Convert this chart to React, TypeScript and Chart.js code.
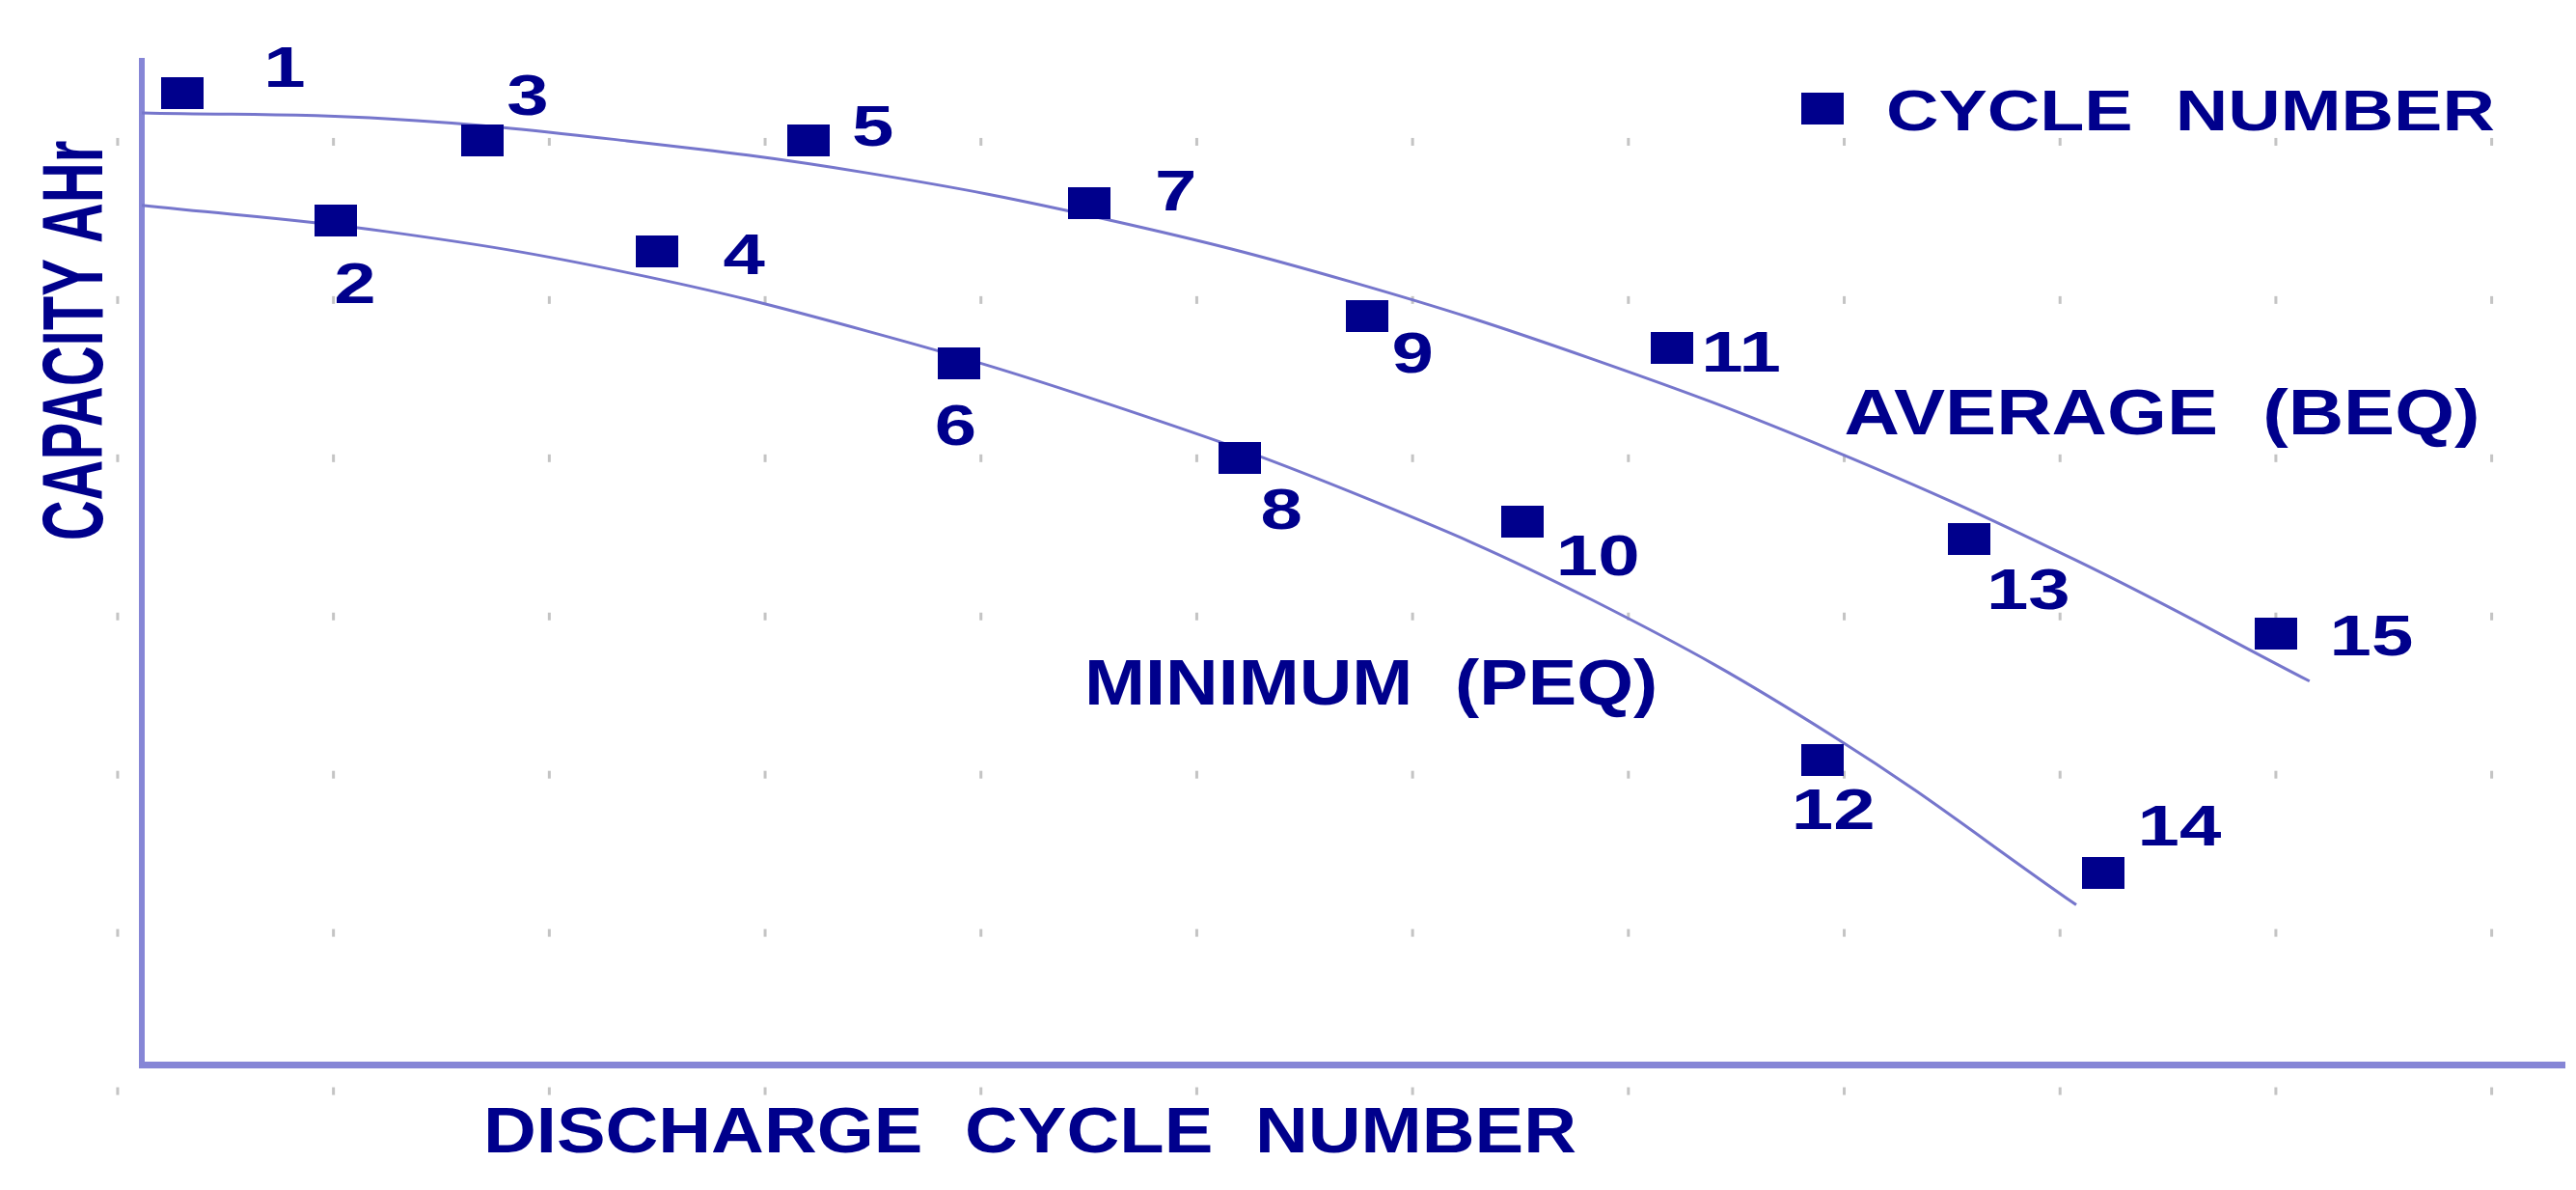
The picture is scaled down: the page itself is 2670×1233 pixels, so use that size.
import React, { useEffect, useRef } from 'react';
import { Chart, registerables } from 'chart.js';

Chart.register(...registerables);

// ---- data ----
const CYCLE_NUMBERS = ['1', '2', '3', '4', '5', '6', '7', '8', '9', '10', '11', '12', '13', '14', '15'];
const CYCLE_X = [3.0, 10.1, 16.9, 25.0, 32.0, 39.0, 45.0, 52.0, 57.9, 65.1, 72.0, 79.0, 85.8, 92.0, 100.0];
const CAPACITY = [63.1, 55.0, 60.1, 53.1, 60.1, 46.0, 56.1, 40.0, 49.0, 36.0, 47.0, 20.9, 34.9, 13.8, 28.9];

const AVERAGE_X = [1.12, 12.43, 23.6, 34.78, 45.95, 57.13, 68.31, 79.48, 90.66, 101.56];
const AVERAGE_Y = [61.83, 61.46, 60.06, 58.02, 55.06, 51.16, 46.28, 40.49, 33.6, 25.91];

const MINIMUM_X = [1.12, 12.43, 23.6, 34.78, 45.95, 57.13, 68.31, 79.48, 90.75];
const MINIMUM_Y = [55.98, 54.33, 51.74, 48.02, 43.41, 37.87, 31.05, 22.44, 11.77];

const GRID_X = [0, 10, 20, 30, 40, 50, 60, 70, 80, 90, 100, 110];
const GRID_Y = [0, 10, 20, 30, 40, 50, 60];

const X_MIN = 1.12;
const X_MAX = 113.37;
const Y_MIN = 1.68;
const Y_MAX = 65.12;

const LEGEND_TEXT = 'CYCLE NUMBER';
const AVERAGE_LABEL = 'AVERAGE (BEQ)';
const MINIMUM_LABEL = 'MINIMUM (PEQ)';
const X_TITLE = 'DISCHARGE CYCLE NUMBER';
const Y_TITLE = 'CAPACITY AHr';

// ---- styles / placement ----
const TEXT_COLOR = '#00008c';
const MARKER_COLOR = '#00008c';
const CURVE_COLOR = '#7676cc';
const AXIS_COLOR = '#8686d6';
const DOT_COLOR = '#c4c4c4';
const FONT_FAMILY = "'Liberation Sans', Arial, sans-serif";

// pixel offsets of each number label's centre from its marker
const LABEL_OFFSETS: [number, number][] = [
  [106, -28], [20, 64], [47, -48], [90, 2], [67, -16], [-4, 63], [90, -14], [43, 52],
  [47, 37], [78, 34], [72, 3], [11, 50], [61, 51], [79, -50], [99, 1],
];

function drawStretched(
  ctx: CanvasRenderingContext2D,
  text: string,
  x: number,
  y: number,
  size: number,
  opts: { width?: number; sx?: number; align?: CanvasTextAlign; rotate?: boolean; wordGap?: number }
) {
  ctx.save();
  ctx.font = `bold ${size}px ${FONT_FAMILY}`;
  const c: any = ctx;
  if ('wordSpacing' in c) c.wordSpacing = `${Math.round((opts.wordGap ?? 0) * size)}px`;
  let sx = opts.sx ?? 1;
  if (opts.width) sx = opts.width / ctx.measureText(text).width;
  ctx.translate(x, y);
  ctx.scale(sx, 1);
  if (opts.rotate) ctx.rotate(-Math.PI / 2);
  ctx.fillStyle = TEXT_COLOR;
  ctx.textAlign = opts.align ?? 'left';
  ctx.textBaseline = 'alphabetic';
  ctx.fillText(text, 0, 0);
  ctx.restore();
}

export default function App() {
  const ref = useRef<HTMLCanvasElement>(null);

  useEffect(() => {
    const canvas = ref.current;
    if (!canvas) return;

    const marker = document.createElement('canvas');
    marker.width = 44;
    marker.height = 33;
    const mctx = marker.getContext('2d')!;
    mctx.fillStyle = MARKER_COLOR;
    mctx.fillRect(0, 0, 44, 33);

    const annotations = {
      id: 'annotations',
      beforeDatasetsDraw(chart: any) {
        const { ctx, scales } = chart;
        ctx.save();
        ctx.fillStyle = DOT_COLOR;
        for (const gx of GRID_X) {
          for (const gy of GRID_Y) {
            const px = scales.x.getPixelForValue(gx);
            const py = scales.y.getPixelForValue(gy);
            ctx.fillRect(px - 1.5, py - 4, 3, 8);
          }
        }
        ctx.restore();
      },
      afterDatasetsDraw(chart: any) {
        const { ctx, scales, chartArea } = chart;
        const meta = chart.getDatasetMeta(0);
        // number labels
        meta.data.forEach((pt: any, i: number) => {
          const [dx, dy] = LABEL_OFFSETS[i];
          drawStretched(ctx, CYCLE_NUMBERS[i], pt.x + dx, pt.y + dy + 21.5, 60, { sx: 1.3, align: 'center' });
        });
        // curve labels
        drawStretched(ctx, AVERAGE_LABEL, scales.x.getPixelForValue(80.0), scales.y.getPixelForValue(41.5), 66, { width: 659, wordGap: 0.3 });
        drawStretched(ctx, MINIMUM_LABEL, scales.x.getPixelForValue(44.8), scales.y.getPixelForValue(24.45), 66, { width: 594, wordGap: 0.3 });
        // legend
        const lx = scales.x.getPixelForValue(79.0);
        const ly = scales.y.getPixelForValue(62.1);
        ctx.drawImage(marker, lx - marker.width / 2, ly - marker.height / 2);
        drawStretched(ctx, LEGEND_TEXT, scales.x.getPixelForValue(81.94), scales.y.getPixelForValue(60.7), 59, { width: 631, wordGap: 0.3 });
        // axis titles
        drawStretched(ctx, X_TITLE, chartArea.left + 354, chartArea.bottom + 91, 67, { width: 1133, wordGap: 0.3 });
        drawStretched(ctx, Y_TITLE, chartArea.left - 41, chartArea.top + 290, 58, { sx: 1.55, align: 'center', rotate: true });
      },
    };

    const curveStyle = {
      showLine: true,
      pointRadius: 0,
      borderColor: CURVE_COLOR,
      borderWidth: 3,
      tension: 0.4,
    };

    const chart = new Chart(canvas, {
      type: 'scatter',
      data: {
        datasets: [
          {
            label: LEGEND_TEXT,
            data: CYCLE_X.map((x, i) => ({ x, y: CAPACITY[i] })),
            pointStyle: marker as any,
            pointRadius: 5,
            showLine: false,
            order: 0,
          },
          {
            label: AVERAGE_LABEL,
            data: AVERAGE_X.map((x, i) => ({ x, y: AVERAGE_Y[i] })),
            ...curveStyle,
            order: 1,
          } as any,
          {
            label: MINIMUM_LABEL,
            data: MINIMUM_X.map((x, i) => ({ x, y: MINIMUM_Y[i] })),
            ...curveStyle,
            order: 2,
          } as any,
        ],
      },
      options: {
        animation: false,
        responsive: false,
        devicePixelRatio: 1,
        events: [],
        layout: { padding: { left: 147, top: 63, right: 12, bottom: 130 } },
        plugins: { legend: { display: false }, tooltip: { enabled: false } },
        scales: {
          x: {
            type: 'linear',
            min: X_MIN,
            max: X_MAX,
            grid: { display: false, drawTicks: false },
            ticks: { display: false },
            border: { display: true, color: AXIS_COLOR, width: 7 },
          },
          y: {
            type: 'linear',
            min: Y_MIN,
            max: Y_MAX,
            grid: { display: false, drawTicks: false },
            ticks: { display: false },
            border: { display: true, color: AXIS_COLOR, width: 6 },
          },
        },
      },
      plugins: [annotations],
    });

    return () => chart.destroy();
  }, []);

  return (
    <div style={{ position: 'fixed', left: 0, top: 0, width: 2670, height: 1233, background: '#ffffff' }}>
      <canvas ref={ref} width={2670} height={1233} style={{ display: 'block', width: 2670, height: 1233 }} />
    </div>
  );
}
